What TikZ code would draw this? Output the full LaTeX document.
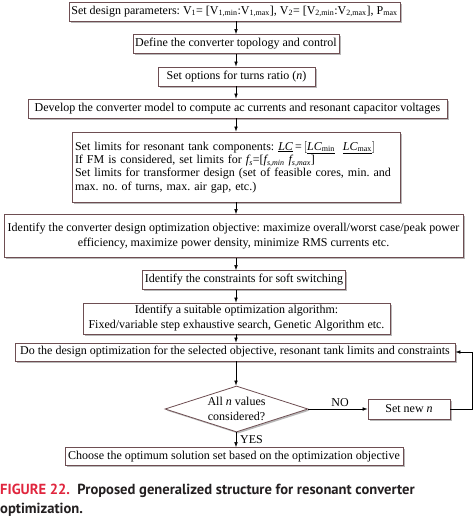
\documentclass[tikz,border=0pt]{standalone}
\usepackage{fontspec}
\setmainfont{Liberation Serif}
\newfontfamily\captionfont{PT Sans}
\usetikzlibrary{arrows.meta,shapes.geometric,shadows}

\definecolor{boxline}{RGB}{110,78,82}
\definecolor{figred}{RGB}{224,38,62}
\definecolor{captext}{RGB}{35,31,32}

\tikzset{
  stepbox/.style={draw=boxline, fill=white, line width=0.8pt, inner sep=2pt,
    font=\fontsize{12}{15}\selectfont\frenchspacing,
    drop shadow={shadow xshift=1.6pt, shadow yshift=-1.6pt, fill=black!50, opacity=0.55}},
  decbox/.style={stepbox, diamond, aspect=3.1, inner sep=0pt},
  flow/.style={-{Latex[length=5pt,width=3.6pt]}, line width=0.6pt},
}

\begin{document}
\frenchspacing
\begin{tikzpicture}[x=1pt,y=-1pt]
\useasboundingbox (0,0) rectangle (474,521);
\coordinate (ax) at (236,0);
\coordinate (loop) at (472,0);

%Shape: Rectangle
\node [stepbox, minimum width=331pt, minimum height=19pt] (params) at (234.5,11.5) {Set design parameters: V\textsubscript{1}= [V\textsubscript{1,min}:V\textsubscript{1,max}], V\textsubscript{2}= [V\textsubscript{2,min}:V\textsubscript{2,max}], P\textsubscript{max}};
%Shape: Rectangle
\node [stepbox, minimum width=206pt, minimum height=19pt] (topo) at (236,44) {Define the converter topology and control};
%Shape: Rectangle
\node [stepbox, minimum width=157pt, minimum height=19pt] (turns) at (236.5,76.5) {Set options for turns ratio (\textit{n})};
%Shape: Rectangle
\node [stepbox, minimum width=419pt, minimum height=19pt] (model) at (237.5,108.5) {Develop the converter model to compute ac currents and resonant capacitor voltages};
%Shape: Rectangle
\node [stepbox, minimum width=328pt, minimum height=70pt, text width=322pt, align=left, font=\fontsize{12}{13.4}\selectfont\frenchspacing] (limits) at (236,167) {Set limits for resonant tank components: \underline{\textit{LC}}\,=\,$\bigl[$\underline{\textit{LC}\textsubscript{min}}\ \ \underline{\textit{LC}\textsubscript{max}}$\bigr]$\\
If FM is considered, set limits for \textit{f\textsubscript{s}}=[\textit{f\textsubscript{s,min} f\textsubscript{s,max}}]\\
Set limits for transformer design (set of feasible cores, min. and\\
max. no. of turns, max. air gap, etc.)};
%Shape: Rectangle
\node [stepbox, minimum width=459pt, minimum height=43pt, align=center] (objective) at (233.5,236) {Identify the converter design optimization objective: maximize overall/worst case/peak power\\efficiency, maximize power density, minimize RMS currents etc.};
%Shape: Rectangle
\node [stepbox, minimum width=192pt, minimum height=19pt] (soft) at (244,280) {Identify the constraints for soft switching};
%Shape: Rectangle
\node [stepbox, minimum width=307pt, minimum height=31pt, align=center] (algo) at (236.5,318.5) {Identify a suitable optimization algorithm:\\Fixed/variable step exhaustive search, Genetic Algorithm etc.};
%Shape: Rectangle
\node [stepbox, minimum width=440pt, minimum height=18pt] (optim) at (235,352) {Do the design optimization for the selected objective, resonant tank limits and constraints};
%Shape: Diamond
\node [decbox, minimum width=143pt, minimum height=46pt, align=center] (check) at (236.5,409) {All \textit{n} values\\considered?};
%Shape: Rectangle
\node [stepbox, minimum width=82pt, minimum height=20pt] (newn) at (409,409) {Set new \textit{n}};
%Shape: Rectangle
\node [stepbox, minimum width=338pt, minimum height=18pt] (choose) at (234,456.5) {Choose the optimum solution set based on the optimization objective};

%Straight Lines
\draw [flow] (params.south -| ax) -- (topo.north -| ax);
\draw [flow] (topo.south -| ax) -- (turns.north -| ax);
\draw [flow] (turns.south -| ax) -- (model.north -| ax);
\draw [flow] (model.south -| ax) -- (limits.north -| ax);
\draw [flow] (limits.south -| ax) -- (objective.north -| ax);
\draw [flow] (objective.south -| ax) -- (soft.north -| ax);
\draw [flow] (soft.south -| ax) -- (algo.north -| ax);
\draw [flow] (algo.south -| ax) -- (optim.north -| ax);
\draw [flow] (optim.south -| ax) -- (check.north -| ax);
\draw [flow] (check.south -| ax) -- (choose.north -| ax);
\draw [flow] (check.east) -- (newn.west);
\draw [flow] (newn.east) -- (newn.east -| loop) |- (optim.east);

% Text Node
\node [anchor=south, inner sep=1pt, font=\fontsize{12}{14}\selectfont] (nolabel) at (340,408) {NO};
% Text Node
\node [anchor=west, inner sep=1pt, font=\fontsize{12}{14}\selectfont] (yeslabel) at (239,440) {YES};
% Text Node
\node [anchor=north west, inner sep=0pt, align=left, text=captext, font=\captionfont\bfseries\fontsize{14.6}{19}\selectfont] (caption) at (0,484) {\textcolor{figred}{FIGURE 22.}\ \ Proposed generalized structure for resonant converter\\optimization.};

\end{tikzpicture}
\end{document}
